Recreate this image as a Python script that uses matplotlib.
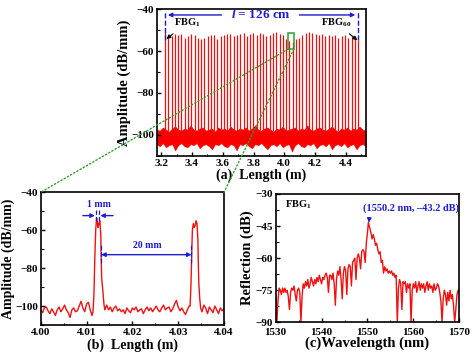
import numpy as np
import matplotlib
matplotlib.use("Agg")
import matplotlib.pyplot as plt
from matplotlib.patches import Rectangle, ConnectionPatch
from matplotlib.ticker import MultipleLocator, FormatStrFormatter

plt.rcParams['font.family'] = 'Liberation Serif'
plt.rcParams['font.weight'] = 'bold'
plt.rcParams['axes.labelweight'] = 'bold'
plt.rcParams['mathtext.fontset'] = 'custom'
plt.rcParams['mathtext.rm'] = 'Liberation Serif:bold'
plt.rcParams['mathtext.bf'] = 'Liberation Serif:bold'
plt.rcParams['mathtext.it'] = 'Liberation Serif:italic:bold'
plt.rcParams['xtick.direction'] = 'in'
plt.rcParams['ytick.direction'] = 'in'
plt.rcParams['axes.linewidth'] = 1.2

RED = '#f01010'
BLUE = '#1c1cd0'
GREEN = '#2f9e2f'

# %% data : (a) 60 FBG peaks along the fibre
peak_x = [3.2245, 3.2458, 3.2671, 3.2883, 3.3096, 3.3309, 3.3522, 3.3735, 3.3947, 3.4160,
          3.4373, 3.4586, 3.4799, 3.5011, 3.5224, 3.5437, 3.5650, 3.5863, 3.6075, 3.6288,
          3.6501, 3.6714, 3.6927, 3.7139, 3.7352, 3.7565, 3.7778, 3.7991, 3.8203, 3.8416,
          3.8629, 3.8842, 3.9055, 3.9267, 3.9480, 3.9693, 3.9906, 4.0119, 4.0331, 4.0544,
          4.0757, 4.0970, 4.1183, 4.1395, 4.1608, 4.1821, 4.2034, 4.2247, 4.2459, 4.2672,
          4.2885, 4.3098, 4.3311, 4.3523, 4.3736, 4.3949, 4.4162, 4.4375, 4.4587, 4.4800]
peak_db = [-51.0, -53.5, -53.0, -52.0, -52.5, -52.0, -53.5, -53.0, -52.0, -52.5,
           -53.5, -54.0, -53.5, -53.0, -52.5, -52.5, -54.0, -53.0, -52.5, -52.0,
           -52.0, -53.0, -52.5, -52.0, -51.5, -53.0, -52.0, -51.5, -52.5, -51.5,
           -52.0, -53.0, -52.5, -51.5, -51.0, -52.0, -52.5, -54.0, -55.0, -55.5,
           -54.0, -53.5, -52.5, -51.5, -51.0, -51.5, -52.0, -52.5, -52.0, -53.0,
           -52.5, -53.0, -52.5, -53.5, -53.0, -52.5, -53.5, -53.0, -53.5, -54.5]

# noise floor envelope of (a)
band_x = [3.17, 3.19, 3.21, 3.23, 3.25, 3.27, 3.29, 3.31, 3.33, 3.35,
          3.37, 3.39, 3.41, 3.43, 3.45, 3.47, 3.49, 3.51, 3.53, 3.55,
          3.57, 3.59, 3.61, 3.63, 3.65, 3.67, 3.69, 3.71, 3.73, 3.75,
          3.77, 3.79, 3.81, 3.83, 3.85, 3.87, 3.89, 3.91, 3.93, 3.95,
          3.97, 3.99, 4.01, 4.03, 4.05, 4.07, 4.09, 4.11, 4.13, 4.15,
          4.17, 4.19, 4.21, 4.23, 4.25, 4.27, 4.29, 4.31, 4.33, 4.35,
          4.37, 4.39, 4.41, 4.43, 4.45, 4.47, 4.49, 4.51, 4.53]
band_hi = [-97.5, -98, -96.5, -97.5, -98.5, -97, -96, -97.5, -98, -97,
           -97.5, -95.5, -97.5, -98, -97, -96.5, -98, -97.5, -97, -98.5,
           -96.5, -97.5, -97, -98, -96, -97.5, -98, -97, -97.5, -96.5,
           -98, -97, -95.5, -97.5, -98, -97, -96.5, -97.5, -98.5, -97,
           -97.5, -96, -98, -97.5, -97, -96.5, -98, -97, -97.5, -95.5,
           -97.5, -98, -97, -96.5, -97.5, -98, -97, -96, -97.5, -98.5,
           -97, -97.5, -96.5, -98, -97, -97.5, -96, -97.5, -98]
band_lo = [-104.5, -105.5, -104, -106, -105, -104.5, -107.5, -105, -104, -105.5,
           -106, -104.5, -105, -104, -106.5, -105, -104.5, -105.5, -107, -104.5,
           -105, -104, -105.5, -106, -104.5, -105, -107.5, -104.5, -105, -104,
           -105.5, -106.5, -104.5, -105, -104, -105.5, -107, -105, -104.5, -105.5,
           -104, -106, -105, -104.5, -108, -105, -104, -105.5, -106, -104.5,
           -105, -104, -106.5, -105, -104.5, -105.5, -104, -107, -105, -104.5,
           -105.5, -104, -106, -105, -104.5, -107, -105, -104.5, -105.5]

# %% data : (b) zoom on two neighbouring gratings
len_b = [4.0000, 4.0004, 4.0008, 4.0012, 4.0016, 4.0020, 4.0024, 4.0028, 4.0032, 4.0036,
         4.0040, 4.0044, 4.0048, 4.0052, 4.0056, 4.0060, 4.0064, 4.0068, 4.0072, 4.0076,
         4.0080, 4.0084, 4.0088, 4.0092, 4.0096, 4.0100, 4.0104, 4.0108, 4.0112,
         4.0114, 4.0116, 4.0118, 4.0120, 4.0122, 4.0124, 4.0125, 4.0127, 4.0129, 4.0131,
         4.0132, 4.0133, 4.0134, 4.0136, 4.0138, 4.0140,
         4.0144, 4.0148, 4.0152, 4.0156, 4.0160, 4.0164, 4.0168, 4.0172, 4.0176, 4.0180,
         4.0184, 4.0188, 4.0192, 4.0196, 4.0200, 4.0204, 4.0208, 4.0212, 4.0216, 4.0220,
         4.0224, 4.0228, 4.0232, 4.0236, 4.0240, 4.0244, 4.0248, 4.0252, 4.0256, 4.0260,
         4.0264, 4.0268, 4.0272, 4.0276, 4.0280, 4.0284, 4.0288, 4.0292, 4.0296, 4.0300,
         4.0304, 4.0308, 4.0312, 4.0316, 4.0320, 4.0324,
         4.0326, 4.0328, 4.0330, 4.0331, 4.0333, 4.0335, 4.0337, 4.0339, 4.0341, 4.0343,
         4.0344, 4.0345, 4.0347, 4.0349,
         4.0352, 4.0356, 4.0360, 4.0364, 4.0368, 4.0372, 4.0376, 4.0380, 4.0384, 4.0388,
         4.0392, 4.0396, 4.0400]
amp_b = [-102, -103.5, -101, -100.5, -102.5, -104, -101.5, -103, -105, -102,
         -100.5, -103, -101.5, -99.5, -102, -103.5, -106, -102, -101, -103,
         -102.5, -100, -97.5, -101, -103, -99, -98, -102, -105,
         -103, -95, -75, -60, -53.5, -56, -58.5, -56.5, -55, -62,
         -75, -85, -88, -93, -99, -102,
         -99.5, -102, -100.5, -103, -101, -100, -102.5, -101.5, -103, -102,
         -104, -101, -102.5, -103.5, -101, -102, -100.5, -103, -102, -101.5,
         -104, -102, -100.5, -102.5, -101, -103, -101.5, -100, -102, -103,
         -101, -99.5, -102, -101, -100.5, -103, -101.5, -99, -97, -100.5,
         -102.5, -101, -103, -104.5, -102, -100,
         -100, -88, -68, -60, -56.5, -58.5, -57.5, -55, -56.5, -65,
         -78, -88, -96, -101,
         -103, -99.5, -101, -104, -100.5, -102, -103.5, -100, -102, -104,
         -101, -102.5, -101.5]

# %% data : (c) reflection spectrum of FBG1
wl_c = [1530.0, 1530.25, 1530.5, 1530.75, 1531.0, 1531.25, 1531.5, 1531.75,
        1532.0, 1532.25, 1532.5, 1532.75, 1533.0, 1533.25, 1533.5, 1533.75,
        1534.0, 1534.25, 1534.5, 1534.75, 1535.0, 1535.25, 1535.5, 1535.75,
        1536.0, 1536.25, 1536.5, 1536.75, 1537.0, 1537.25, 1537.5, 1537.75,
        1538.0, 1538.25, 1538.5, 1538.75, 1539.0, 1539.25, 1539.5, 1539.75,
        1540.0, 1540.25, 1540.5, 1540.75, 1541.0, 1541.25, 1541.5, 1541.75,
        1542.0, 1542.25, 1542.5, 1542.75, 1543.0, 1543.25, 1543.5, 1543.75,
        1544.0, 1544.25, 1544.5, 1544.75, 1545.0, 1545.25, 1545.5, 1545.75,
        1546.0, 1546.25, 1546.5, 1546.75, 1547.0, 1547.25, 1547.5, 1547.75,
        1548.0, 1548.25, 1548.5, 1548.75, 1549.0, 1549.25, 1549.5, 1549.75,
        1550.0, 1550.2, 1550.5, 1550.75, 1551.0, 1551.25, 1551.5, 1551.75,
        1552.0, 1552.25, 1552.5, 1552.75, 1553.0, 1553.25, 1553.5, 1553.75,
        1554.0, 1554.25, 1554.5, 1554.75, 1555.0, 1555.25, 1555.5, 1555.75,
        1556.0, 1556.25, 1556.5, 1556.75, 1557.0, 1557.25, 1557.5, 1557.75,
        1558.0, 1558.25, 1558.5, 1558.75, 1559.0, 1559.25, 1559.5, 1559.75,
        1560.0, 1560.25, 1560.5, 1560.75, 1561.0, 1561.25, 1561.5, 1561.75,
        1562.0, 1562.25, 1562.5, 1562.75, 1563.0, 1563.25, 1563.5, 1563.75,
        1564.0, 1564.25, 1564.5, 1564.75, 1565.0, 1565.25, 1565.5, 1565.75,
        1566.0, 1566.25, 1566.5, 1566.75, 1567.0, 1567.25, 1567.5, 1567.75,
        1568.0, 1568.25, 1568.5, 1568.75, 1569.0, 1569.25, 1569.5, 1569.75,
        1570.0]
refl_c = [-77, -90, -80, -74, -75, -77, -74, -76,
          -74, -76, -75, -78, -84, -76, -74, -75,
          -73, -77, -80, -75, -74, -76, -90, -78,
          -72, -74, -71, -73, -70, -74, -72, -69,
          -71, -73, -70, -72, -69, -71, -68, -70,
          -72, -69, -70, -68, -67, -69, -76, -68,
          -68, -70, -67, -72, -82, -70, -66, -68,
          -64, -70, -79, -67, -64, -66, -77, -65,
          -63, -64, -73, -62, -61, -60, -70, -60,
          -58, -60, -65, -57, -56, -57, -62, -53,
          -48, -43.2, -46, -48, -51, -49, -51, -54,
          -53, -56, -58, -57, -62, -61, -67, -64,
          -66, -65, -67, -66, -67, -66, -68, -67,
          -69, -68, -90, -74, -70, -72, -84, -71,
          -72, -71, -76, -72, -74, -72, -90, -75,
          -72, -74, -71, -76, -73, -71, -75, -72,
          -74, -72, -76, -73, -71, -75, -72, -74,
          -73, -76, -72, -75, -74, -72, -73, -76,
          -80, -90, -79, -75, -77, -82, -76, -80,
          -75, -79, -77, -82, -90, -84, -77, -75,
          -76]

# %% figure
fig = plt.figure(figsize=(4.74, 3.54), dpi=100)
ax_a = fig.add_axes([0.3306, 0.5602, 0.441, 0.4135])
ax_b = fig.add_axes([0.0859, 0.0819, 0.3867, 0.3749])
ax_c = fig.add_axes([0.5816, 0.0895, 0.3873, 0.3625])

for ax in (ax_a, ax_b, ax_c):
    ax.tick_params(which='major', length=3, width=1, labelsize=8, pad=2)
    ax.tick_params(axis='x', which='major', pad=2.5)
    ax.tick_params(which='minor', length=1.8, width=0.8)
ax_c.tick_params(axis='x', which='major', pad=4)

# (a)
ax_a.fill_between(band_x, band_lo, band_hi, color='#f80000', lw=0.3)
ax_a.vlines(peak_x, -98, peak_db, color=RED, lw=0.9)
ax_a.set_xlim(3.17, 4.53)
ax_a.set_ylim(-110, -40)
ax_a.set_xticks([3.2, 3.4, 3.6, 3.8, 4.0, 4.2, 4.4])
ax_a.set_yticks([-40, -60, -80, -100])
ax_a.xaxis.set_minor_locator(MultipleLocator(0.1))
ax_a.yaxis.set_minor_locator(MultipleLocator(10))
ax_a.xaxis.set_major_formatter(FormatStrFormatter('%.1f'))
ax_a.set_xlabel('(a)  Length (m)', fontsize=10, labelpad=0.5)
ax_a.set_ylabel('Amplitude (dB/mm)', fontsize=10.5, labelpad=0)

# length marker l = 126 cm
ax_a.vlines([peak_x[0], peak_x[-1]], -54.5, -41.5, colors=BLUE, linestyles='--', lw=1)
ax_a.text(3.848, -42.7, r'$l$ = 126 cm', color=BLUE, fontsize=9.5, ha='center', va='center')
ax_a.annotate('', xy=(peak_x[0], -42.7), xytext=(3.61, -42.7),
              arrowprops=dict(arrowstyle='-|>', color=BLUE, lw=1, mutation_scale=6))
ax_a.annotate('', xy=(peak_x[-1], -42.7), xytext=(4.08, -42.7),
              arrowprops=dict(arrowstyle='-|>', color=BLUE, lw=1, mutation_scale=6))
ax_a.annotate('FBG$_{1}$', xy=(3.233, -54.2), xytext=(3.366, -46.6), fontsize=7.5,
              ha='center', va='center',
              arrowprops=dict(arrowstyle='-|>', color='black', lw=0.8, mutation_scale=6,
                              shrinkA=2, shrinkB=0))
ax_a.annotate('FBG$_{60}$', xy=(4.476, -54.8), xytext=(4.336, -46.6), fontsize=7.5,
              ha='center', va='center',
              arrowprops=dict(arrowstyle='-|>', color='black', lw=0.8, mutation_scale=6,
                              shrinkA=2, shrinkB=0))

# zoom box and connection lines
ax_a.add_patch(Rectangle((4.026, -59), 0.036, 7.7, fill=False, ec=GREEN, lw=1.1, zorder=5))
for xa, xb in [(4.026, 0), (4.062, 1)]:
    con = ConnectionPatch(xyA=(xa, -59), coordsA=ax_a.transData,
                          xyB=(xb, 1), coordsB=ax_b.transAxes,
                          color=GREEN, ls=':', lw=1)
    fig.add_artist(con)

# (b)
ax_b.plot(len_b, amp_b, color=RED, lw=1)
ax_b.set_xlim(4.0, 4.04)
ax_b.set_ylim(-110, -40)
ax_b.set_xticks([4.00, 4.01, 4.02, 4.03, 4.04])
ax_b.set_yticks([-40, -60, -80, -100])
ax_b.xaxis.set_minor_locator(MultipleLocator(0.005))
ax_b.yaxis.set_minor_locator(MultipleLocator(10))
ax_b.xaxis.set_major_formatter(FormatStrFormatter('%.2f'))
ax_b.set_xlabel('(b)  Length (m)', fontsize=10, labelpad=0.5)
ax_b.set_ylabel('Amplitude (dB/mm)', fontsize=10, labelpad=0)

ax_b.vlines([4.0120, 4.0128], -55.4, -49.3, colors=BLUE, linestyles='--', lw=0.9)
ax_b.text(4.0126, -46.3, '1 mm', color=BLUE, fontsize=7, ha='center', va='center')
ax_b.annotate('', xy=(4.0118, -52.3), xytext=(4.0092, -52.3),
              arrowprops=dict(arrowstyle='-|>', color=BLUE, lw=1, mutation_scale=6,
                              shrinkA=0, shrinkB=0))
ax_b.annotate('', xy=(4.0130, -52.3), xytext=(4.0158, -52.3),
              arrowprops=dict(arrowstyle='-|>', color=BLUE, lw=1, mutation_scale=6,
                              shrinkA=0, shrinkB=0))
ax_b.vlines([4.0132, 4.0329], -77.2, -67.6, colors=BLUE, linestyles='--', lw=0.9)
ax_b.annotate('', xy=(4.0132, -72.9), xytext=(4.0329, -72.9),
              arrowprops=dict(arrowstyle='<|-|>', color=BLUE, lw=1, mutation_scale=6,
                              shrinkA=0, shrinkB=0))
ax_b.text(4.0232, -68, '20 mm', color=BLUE, fontsize=7, ha='center', va='center')

# (c)
ax_c.plot(wl_c, refl_c, color=RED, lw=1)
ax_c.set_xlim(1530, 1570)
ax_c.set_ylim(-90, -30)
ax_c.set_xticks([1530, 1540, 1550, 1560, 1570])
ax_c.set_yticks([-30, -45, -60, -75, -90])
ax_c.xaxis.set_minor_locator(MultipleLocator(5))
ax_c.yaxis.set_minor_locator(MultipleLocator(7.5))
ax_c.set_xlabel('(c)Wavelength (nm)', fontsize=10.5, labelpad=0)
ax_c.set_ylabel('Reflection (dB)', fontsize=10.5, labelpad=1)
ax_c.text(1535, -35.2, 'FBG$_{1}$', fontsize=7.5, ha='center', va='center')
ax_c.annotate('(1550.2 nm, \u201343.2 dB)', xy=(1550.3, -43.4), xytext=(1559.5, -36.7),
              color=BLUE, fontsize=7.5, ha='center', va='center',
              arrowprops=dict(arrowstyle='-|>', color=BLUE, lw=1, mutation_scale=6,
                              shrinkA=3, shrinkB=0, relpos=(0.07, 0)))

fig.savefig('out.png', dpi=100)
